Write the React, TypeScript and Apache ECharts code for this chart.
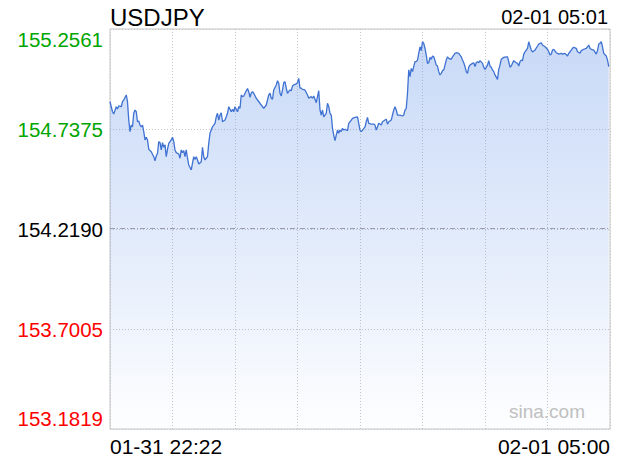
import React, { useEffect, useRef } from "react";
import * as echarts from "echarts";

const TITLE = "USDJPY";
const LAST_TIME = "02-01 05:01";
const WATERMARK = "sina.com";
const X_LABELS = ["01-31 22:22", "02-01 05:00"];
const Y_TICK_LABELS = ["153.1819", "153.7005", "154.2190", "154.7375", "155.2561"];
const Y_MIN = 153.1819;
const Y_MAX = 155.2561;
const PREV_CLOSE = 154.219;
const X_SPAN = 400; // minutes shown from 01-31 22:22

// minute offsets from 01-31 22:22
const minutes = [
  0, 2, 3, 5, 6, 7, 9, 10, 11, 13, 14, 15, 16, 17, 18, 19, 20, 21, 22, 23, 24, 25, 26, 27, 28, 29, 30, 31, 33, 35,
  36, 37, 38, 39, 40, 41, 42, 43, 44, 45, 46, 47, 49, 50, 51, 52, 53, 55, 56, 57, 58, 59, 60, 61, 62, 63, 65, 66, 67, 68,
  69, 70, 71, 73, 74, 75, 76, 77, 78, 79, 80, 81, 82, 84, 85, 86, 87, 88, 89, 90, 92, 93, 94, 95, 97, 98, 99, 100, 102, 103,
  104, 105, 106, 107, 109, 110, 111, 112, 113, 114, 115, 117, 118, 120, 121, 123, 125, 126, 127, 128, 129, 130, 131, 133, 134, 135, 136, 137, 138, 139,
  140, 141, 142, 143, 144, 145, 146, 147, 149, 150, 151, 152, 153, 154, 156, 158, 159, 160, 161, 162, 163, 164, 165, 166, 167, 168, 169, 170, 171, 173,
  174, 175, 176, 177, 178, 179, 180, 181, 182, 183, 184, 185, 186, 187, 188, 190, 191, 192, 193, 194, 196, 198, 199, 200, 201, 202, 204, 205, 206, 207,
  209, 211, 212, 213, 214, 215, 217, 218, 220, 221, 222, 223, 225, 226, 227, 228, 229, 230, 232, 234, 235, 236, 237, 238, 239, 240, 241, 242, 243, 244,
  245, 246, 247, 248, 249, 250, 251, 252, 253, 254, 255, 256, 257, 258, 259, 260, 261, 262, 263, 264, 265, 266, 267, 268, 269, 270, 271, 273, 274, 276,
  277, 279, 281, 282, 283, 284, 285, 286, 287, 288, 290, 291, 292, 293, 294, 295, 296, 298, 299, 300, 302, 303, 304, 305, 306, 307, 308, 310, 311, 312,
  313, 315, 317, 318, 319, 320, 321, 322, 323, 325, 326, 327, 328, 329, 330, 331, 332, 334, 335, 336, 337, 338, 340, 342, 343, 345, 346, 348, 350, 351,
  352, 353, 354, 355, 357, 358, 359, 361, 362, 364, 366, 367, 368, 370, 371, 373, 374, 376, 377, 379, 381, 382, 383, 384, 385, 387, 389, 390, 391, 392,
  393, 394, 395, 397, 398, 399,
];

const prices = [
  154.879, 154.827, 154.815, 154.853, 154.841, 154.857, 154.853, 154.879, 154.888, 154.914, 154.879, 154.784, 154.724, 154.758, 154.749, 154.819, 154.836, 154.827, 154.775, 154.779, 154.758, 154.749, 154.758, 154.724, 154.681, 154.695, 154.681, 154.632, 154.62, 154.594,
  154.573, 154.598, 154.612, 154.672, 154.667, 154.629, 154.667, 154.643, 154.655, 154.594, 154.632, 154.663, 154.681, 154.695, 154.672, 154.629, 154.615, 154.608, 154.586, 154.629, 154.615, 154.625, 154.594, 154.629, 154.586, 154.551, 154.525, 154.56, 154.594, 154.58,
  154.594, 154.577, 154.556, 154.568, 154.643, 154.594, 154.577, 154.586, 154.594, 154.663, 154.715, 154.732, 154.749, 154.767, 154.801, 154.819, 154.784, 154.81, 154.822, 154.775, 154.784, 154.801, 154.819, 154.853, 154.827, 154.84, 154.827, 154.853, 154.827, 154.853,
  154.845, 154.914, 154.905, 154.909, 154.936, 154.947, 154.931, 154.902, 154.923, 154.931, 154.923, 154.897, 154.888, 154.871, 154.862, 154.845, 154.862, 154.888, 154.914, 154.923, 154.897, 154.892, 154.94, 154.966, 154.988, 154.975, 154.923, 154.909, 154.94, 154.978,
  154.983, 154.949, 154.923, 154.931, 154.94, 154.936, 154.961, 154.966, 154.971, 154.978, 155.0, 154.949, 154.949, 154.943, 154.94, 154.914, 154.897, 154.902, 154.905, 154.897, 154.909, 154.892, 154.874, 154.905, 154.936, 154.836, 154.81, 154.836, 154.801, 154.819,
  154.871, 154.853, 154.819, 154.81, 154.741, 154.706, 154.677, 154.706, 154.732, 154.715, 154.732, 154.724, 154.741, 154.732, 154.736, 154.729, 154.767, 154.775, 154.784, 154.793, 154.798, 154.801, 154.767, 154.732, 154.724, 154.732, 154.749, 154.775, 154.798, 154.767,
  154.763, 154.763, 154.758, 154.732, 154.749, 154.767, 154.758, 154.775, 154.784, 154.788, 154.763, 154.775, 154.784, 154.81, 154.836, 154.853, 154.836, 154.81, 154.81, 154.805, 154.81, 154.836, 154.845, 154.923, 155.044, 155.009, 155.052, 155.035, 155.061, 155.087,
  155.087, 155.095, 155.13, 155.164, 155.144, 155.19, 155.182, 155.156, 155.121, 155.078, 155.081, 155.109, 155.099, 155.116, 155.112, 155.092, 155.069, 155.064, 155.035, 155.018, 155.026, 155.04, 155.044, 155.069, 155.095, 155.112, 155.104, 155.099, 155.112, 155.13,
  155.133, 155.13, 155.112, 155.095, 155.081, 155.061, 155.035, 155.026, 155.058, 155.069, 155.078, 155.081, 155.061, 155.081, 155.087, 155.081, 155.092, 155.078, 155.058, 155.047, 155.069, 155.092, 155.064, 155.058, 155.044, 155.035, 155.018, 154.995, 155.047, 155.069,
  155.099, 155.109, 155.112, 155.112, 155.087, 155.058, 155.064, 155.078, 155.092, 155.081, 155.078, 155.064, 155.087, 155.095, 155.092, 155.126, 155.138, 155.156, 155.19, 155.168, 155.147, 155.137, 155.147, 155.168, 155.178, 155.185, 155.173, 155.164, 155.151, 155.138,
  155.121, 155.126, 155.147, 155.151, 155.133, 155.13, 155.126, 155.13, 155.126, 155.13, 155.116, 155.13, 155.138, 155.156, 155.161, 155.156, 155.138, 155.13, 155.144, 155.151, 155.156, 155.164, 155.173, 155.156, 155.151, 155.147, 155.126, 155.144, 155.178, 155.182,
  155.19, 155.164, 155.13, 155.116, 155.095, 155.061,
];

const FONT = "'Liberation Sans', Arial, sans-serif";

export default function App() {
  const ref = useRef<HTMLDivElement>(null);

  useEffect(() => {
    if (!ref.current) return;
    const chart = echarts.init(ref.current, null, { renderer: "svg" });
    const range = Y_MAX - Y_MIN;
    const step = range / 4;
    const data = minutes.map((m, i) => [m, prices[i] - Y_MIN]);
    const midIdx = Y_TICK_LABELS.indexOf(PREV_CLOSE.toFixed(4));

    chart.setOption({
      animation: false,
      grid: {
        left: 110,
        right: 10,
        top: 29,
        bottom: 31,
        show: true,
        borderColor: "#c4c4c4",
        borderWidth: 1,
        backgroundColor: "transparent",
      },
      xAxis: {
        type: "value",
        min: 0,
        max: X_SPAN,
        interval: 50,
        axisLine: { show: false },
        axisTick: { show: false },
        splitLine: { show: true, lineStyle: { color: "#c6c6c6", type: [1, 2], width: 1 } },
        axisLabel: {
          show: true,
          margin: 7,
          fontSize: 21,
          fontFamily: FONT,
          color: "#000",
          alignMinLabel: "left",
          alignMaxLabel: "right",
          showMinLabel: true,
          showMaxLabel: true,
          formatter: (v: number) => (v === 0 ? X_LABELS[0] : v === X_SPAN ? X_LABELS[1] : ""),
        },
      },
      yAxis: {
        type: "value",
        min: 0,
        max: range,
        interval: step,
        axisLine: { show: false },
        axisTick: { show: false },
        splitLine: { show: true, lineStyle: { color: "#c6c6c6", type: [1, 2], width: 1 } },
        axisLabel: {
          show: true,
          margin: 7,
          fontSize: 20.5,
          fontFamily: FONT,
          showMinLabel: true,
          showMaxLabel: true,
          verticalAlignMinLabel: "bottom",
          verticalAlignMaxLabel: "top",
          formatter: (v: number) => Y_TICK_LABELS[Math.round(v / step)] ?? "",
          color: (v: any) => {
            const k = Math.round(Number(v) / step);
            return k > midIdx ? "#00a600" : k < midIdx ? "#ff0000" : "#000000";
          },
        },
      },
      graphic: [
        {
          type: "text",
          left: 110,
          top: 5,
          style: { text: TITLE, font: `24px ${FONT}`, fill: "#000" },
        },
        {
          type: "text",
          right: 12,
          top: 7,
          style: { text: LAST_TIME, font: `20px ${FONT}`, fill: "#000" },
        },
        {
          type: "text",
          right: 35,
          top: 402,
          z: 100,
          style: { text: WATERMARK, font: `19px ${FONT}`, fill: "#c0c0c0" },
        },
      ],
      series: [
        {
          type: "line",
          data,
          showSymbol: false,
          symbol: "none",
          lineStyle: { color: "#3f72d2", width: 1.3 },
          itemStyle: { color: "#3f72d2" },
          areaStyle: {
            origin: "start",
            opacity: 1,
            color: new echarts.graphic.LinearGradient(0, 0, 0, 1, [
              { offset: 0, color: "rgba(101,149,232,0.35)" },
              { offset: 0.5, color: "rgba(101,149,232,0.19)" },
              { offset: 1, color: "rgba(101,149,232,0.01)" },
            ]),
          },
          markLine: {
            silent: true,
            symbol: ["none", "none"],
            label: { show: false },
            lineStyle: { color: "#9c9cab", type: [5, 2, 1, 2], width: 1 },
            data: [{ yAxis: PREV_CLOSE - Y_MIN }],
          },
        },
      ],
    });

    return () => chart.dispose();
  }, []);

  return (
    <div
      ref={ref}
      style={{ position: "absolute", left: 0, top: 0, width: 620, height: 460 }}
    />
  );
}
